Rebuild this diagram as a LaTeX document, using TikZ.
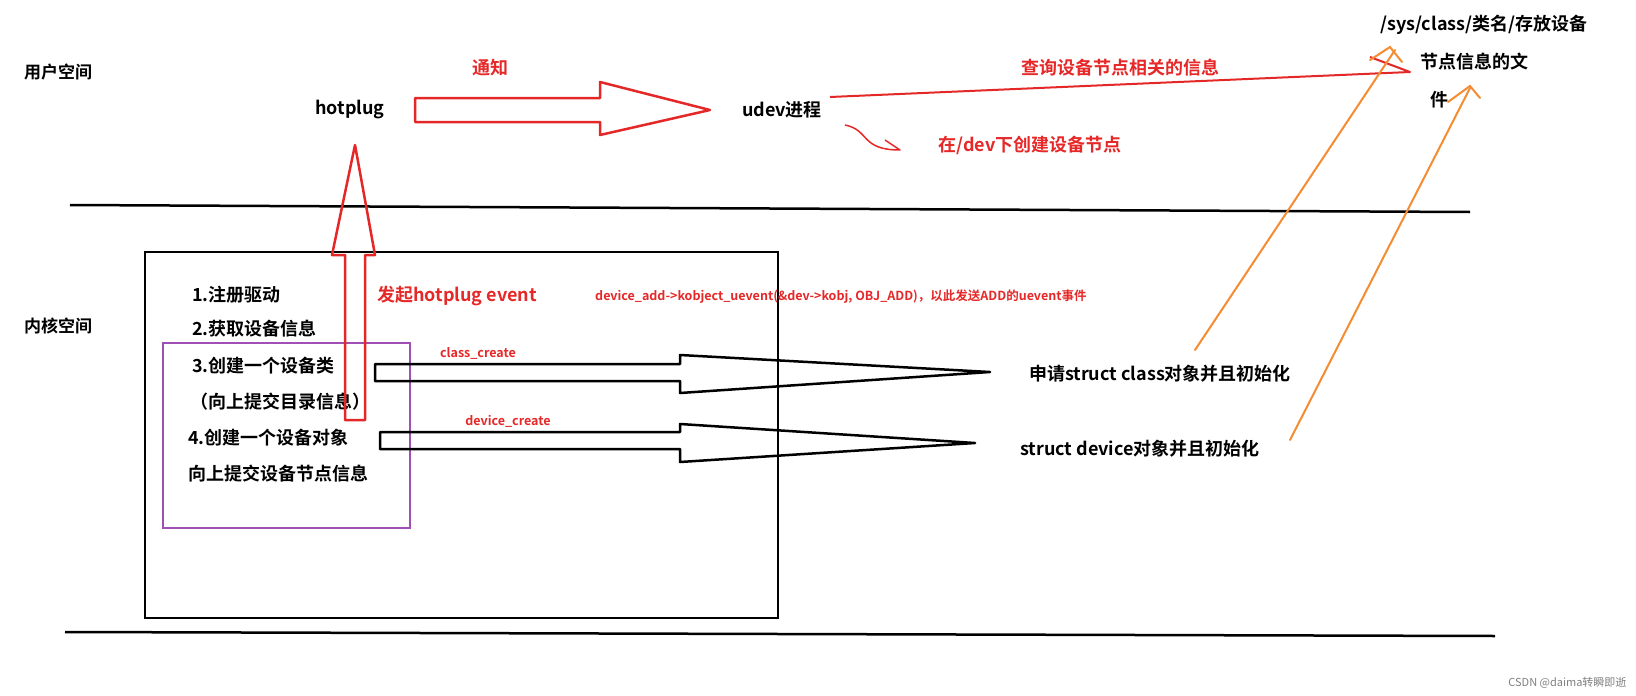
\documentclass[tikz,border=0pt]{standalone}
\usepackage{fontspec}
\setmainfont{Noto Sans CJK SC}[BoldFont={Noto Sans CJK SC Bold}]
\begin{document}
\begin{tikzpicture}[x=1pt,y=-1pt,
  lbl/.style={font=\bfseries\fontsize{18}{21}\selectfont,inner sep=0},
  rlbl/.style={lbl,text={rgb,255:red,230;green,40;blue,40}},
  small/.style={font=\bfseries\fontsize{12.5}{14}\selectfont,inner sep=0,text={rgb,255:red,230;green,40;blue,40}},
  redl/.style={draw={rgb,255:red,228;green,40;blue,40},line width=2.5pt,line join=round},
  blk/.style={draw=black,line width=2.5pt,line join=round},
  org/.style={draw={rgb,255:red,245;green,140;blue,50},line width=2pt,line cap=round}]
\useasboundingbox[fill=white] (0,0) rectangle (1636,696);
\node[lbl,font=\bfseries\fontsize{17}{20}\selectfont] (us) at (58,72) {用户空间};
\node[lbl,font=\bfseries\fontsize{17}{20}\selectfont] (ks) at (58,326) {内核空间};
\node[lbl] (hp) at (350,110) {hotplug};
\node[lbl] (udev) at (782,110) {udev进程};
\node[rlbl] (tz) at (490,68) {通知};
\node[rlbl] (cx) at (1120,68) {查询设备节点相关的信息};
\node[rlbl] (cj) at (1030,145) {在/dev下创建设备节点};
\node[lbl,anchor=west] (s1) at (1380,25) {/sys/class/类名/存放设备};
\node[lbl,anchor=west] (s2) at (1420,62) {节点信息的文};
\node[lbl,anchor=west] (s3) at (1430,100) {件};
% notify arrow
\draw[redl] (415,98) -- (600,98) -- (600,82) -- (710,110) -- (600,135) -- (600,122) -- (415,122) -- cycle;
% query line
\draw[redl,line width=2pt] (830,97) -- (1410,72) -- (1370,57);
\draw[redl,line width=1.5pt] (845,125) .. controls (870,130) and (860,150) .. (900,150) -- (885,140);
% horizontal lines
\draw[line width=2.5pt] (70,205) -- (1470,212);
\draw[line width=2.5pt] (65,632) -- (1495,636);
\draw[line width=2.5pt] (145,252) rectangle (778,618);
\draw[line width=2.5pt,draw={rgb,255:red,160;green,80;blue,180}] (163,343) rectangle (410,528);
\node[lbl,anchor=west] (k1) at (192,295) {1.注册驱动};
\node[lbl,anchor=west] (k2) at (192,329) {2.获取设备信息};
\node[lbl,anchor=west] (k3) at (192,366) {3.创建一个设备类};
\node[lbl,anchor=west] (k4) at (190,402) {（向上提交目录信息）};
\node[lbl,anchor=west] (k5) at (188,438) {4.创建一个设备对象};
\node[lbl,anchor=west] (k6) at (188,474) {向上提交设备节点信息};
% up arrow
\draw[redl] (345,420) -- (345,255) -- (332,255) -- (355,145) -- (375,255) -- (365,255) -- (365,420) -- cycle;
\node[rlbl,anchor=west] (ev) at (377,296) {发起hotplug event};
\node[small,anchor=west] (da) at (595,297) {device\_add->kobject\_uevent(\&dev->kobj, OBJ\_ADD)，以此发送ADD的uevent事件};
% black arrows
\draw[blk] (375,364) -- (680,364) -- (680,355) -- (990,372) -- (680,393) -- (680,381) -- (375,381) -- cycle;
\draw[blk] (380,432) -- (680,432) -- (680,424) -- (975,443) -- (680,462) -- (680,449) -- (380,449) -- cycle;
\node[small] (cc) at (478,353) {class\_create};
\node[small] (dc) at (508,421) {device\_create};
\node[lbl] (c1) at (1160,374) {申请struct class对象并且初始化};
\node[lbl] (c2) at (1140,449) {struct device对象并且初始化};
% orange
\draw[org] (1195,350) -- (1395,50);
\draw[org] (1370,60) -- (1390,47) -- (1402,62);
\draw[org] (1290,440) -- (1470,88);
\draw[org] (1448,102) -- (1470,86) -- (1480,98);
\node[font=\fontsize{11}{13}\selectfont,text=gray,anchor=east] (wm) at (1630,683) {CSDN @daima转瞬即逝};
\end{tikzpicture}
\end{document}
